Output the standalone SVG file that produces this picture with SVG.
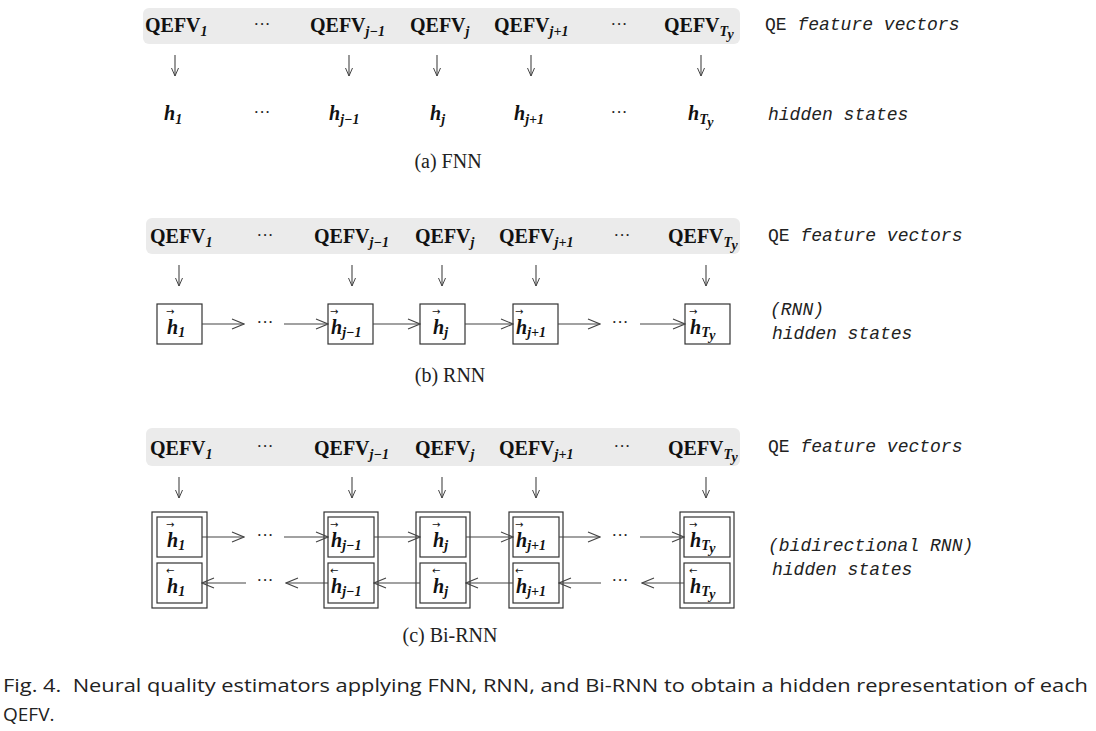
<svg xmlns="http://www.w3.org/2000/svg" width="1096" height="731" viewBox="0 0 1096 731">
<style>
.band{fill:#ebebeb}
.q{font-family:"Liberation Serif",serif;font-weight:bold;font-size:20px;fill:#111}
.s{font-size:14px;font-style:italic;font-weight:bold}
.dots{font-family:"Liberation Serif",serif;font-size:17px;fill:#222;text-anchor:middle}
.h{font-family:"Liberation Serif",serif;font-weight:bold;font-style:italic;font-size:20px;fill:#111}
.acc{font-family:"DejaVu Sans",sans-serif;font-size:10px;fill:#111}
.lab{font-family:"Liberation Mono",monospace;font-style:italic;font-size:18px;fill:#222}
.cap{font-family:"Liberation Serif",serif;font-size:20px;fill:#222;text-anchor:middle}
.fig{font-family:"Open Sans",sans-serif;font-size:19px;fill:#222}
.box{fill:#fff;stroke:#333;stroke-width:1.2}
.ln{stroke:#444;stroke-width:1.1;fill:none}
</style>
<defs>
<marker id="ah" markerWidth="14" markerHeight="12" refX="13" refY="6" orient="auto" markerUnits="userSpaceOnUse"><polyline points="1,1 13,6 1,11" fill="none" stroke="#444" stroke-width="1.1"/></marker>
<marker id="dh" markerWidth="10" markerHeight="8" refX="9" refY="4" orient="auto" markerUnits="userSpaceOnUse"><polyline points="1,0.5 9,4 1,7.5" fill="none" stroke="#444" stroke-width="1"/></marker>
</defs>

<g id="panel-a">
<rect class="band" x="143" y="8" width="597" height="36" rx="6"/>
<g id="a-qefv" class="q">
<text x="145" y="32">QEFV<tspan class="s" dy="4">1</tspan></text>
<text x="310" y="32">QEFV<tspan class="s" dy="4">j−1</tspan></text>
<text x="410" y="32">QEFV<tspan class="s" dy="4">j</tspan></text>
<text x="494" y="32">QEFV<tspan class="s" dy="4">j+1</tspan></text>
<text x="664" y="32">QEFV<tspan class="s" dy="4">T</tspan><tspan class="s" font-size="10" dy="3">y</tspan></text>
</g>
<text class="dots" x="262" y="30">···</text><text class="dots" x="619" y="30">···</text>
<text class="lab" x="765" y="30"><tspan font-style="normal">QE</tspan> feature vectors</text>
<g id="a-h" class="h">
<text x="164" y="120">h<tspan class="s" dy="4">1</tspan></text>
<text x="329" y="120">h<tspan class="s" dy="4">j−1</tspan></text>
<text x="430" y="120">h<tspan class="s" dy="4">j</tspan></text>
<text x="514" y="120">h<tspan class="s" dy="4">j+1</tspan></text>
<text x="688" y="120">h<tspan class="s" dy="4">T</tspan><tspan class="s" font-size="10" dy="3">y</tspan></text>
</g>
<text class="dots" x="262" y="118">···</text><text class="dots" x="619" y="118">···</text>
<text class="lab" x="768" y="120">hidden states</text>
<text class="cap" x="448" y="168">(a) FNN</text>
</g>

<g id="panel-b">
<rect class="band" x="146" y="218" width="594" height="36" rx="6"/>
<g class="q">
<text x="150" y="243">QEFV<tspan class="s" dy="4">1</tspan></text>
<text x="314" y="243">QEFV<tspan class="s" dy="4">j−1</tspan></text>
<text x="415" y="243">QEFV<tspan class="s" dy="4">j</tspan></text>
<text x="499" y="243">QEFV<tspan class="s" dy="4">j+1</tspan></text>
<text x="668" y="243">QEFV<tspan class="s" dy="4">T</tspan><tspan class="s" font-size="10" dy="3">y</tspan></text>
</g>
<text class="dots" x="265" y="241">···</text><text class="dots" x="622" y="241">···</text>
<text class="lab" x="768" y="241"><tspan font-style="normal">QE</tspan> feature vectors</text>
<g id="b-boxes">
<rect class="box" x="157" y="304" width="45" height="40"/>
<rect class="box" x="328" y="304" width="45" height="40"/>
<rect class="box" x="420" y="304" width="45" height="40"/>
<rect class="box" x="513" y="304" width="45" height="40"/>
<rect class="box" x="685" y="304" width="45" height="40"/>
</g>
<g class="h">
<text x="167" y="334">h<tspan class="s" dy="3">1</tspan></text>
<text x="331" y="334">h<tspan class="s" dy="3">j−1</tspan></text>
<text x="433" y="334">h<tspan class="s" dy="3">j</tspan></text>
<text x="516" y="334">h<tspan class="s" dy="3">j+1</tspan></text>
<text x="690" y="334">h<tspan class="s" dy="3">T</tspan><tspan class="s" font-size="10" dy="3">y</tspan></text>
</g>
<g class="acc">
<text x="166" y="315">→</text><text x="330" y="315">→</text><text x="432" y="315">→</text><text x="515" y="315">→</text><text x="689" y="315">→</text>
</g>
<text class="dots" x="265" y="328">···</text><text class="dots" x="620" y="328">···</text>
<text class="lab" x="770" y="315">(RNN)</text>
<text class="lab" x="772" y="339">hidden states</text>
<text class="cap" x="450" y="382">(b) RNN</text>
</g>

<g id="panel-c">
<rect class="band" x="146" y="428" width="594" height="38" rx="6"/>
<g class="q">
<text x="150" y="455">QEFV<tspan class="s" dy="4">1</tspan></text>
<text x="314" y="455">QEFV<tspan class="s" dy="4">j−1</tspan></text>
<text x="415" y="455">QEFV<tspan class="s" dy="4">j</tspan></text>
<text x="499" y="455">QEFV<tspan class="s" dy="4">j+1</tspan></text>
<text x="668" y="455">QEFV<tspan class="s" dy="4">T</tspan><tspan class="s" font-size="10" dy="3">y</tspan></text>
</g>
<text class="dots" x="265" y="452">···</text><text class="dots" x="622" y="452">···</text>
<text class="lab" x="768" y="452"><tspan font-style="normal">QE</tspan> feature vectors</text>
<g id="c-boxes">
<rect class="box" x="152" y="512" width="55" height="96"/>
<rect class="box" x="324" y="512" width="54" height="96"/>
<rect class="box" x="416" y="512" width="54" height="96"/>
<rect class="box" x="509" y="512" width="54" height="96"/>
<rect class="box" x="680" y="512" width="54" height="96"/>
<rect class="box" x="157" y="517" width="45" height="40"/><rect class="box" x="157" y="563" width="45" height="40"/>
<rect class="box" x="328" y="517" width="46" height="40"/><rect class="box" x="328" y="563" width="46" height="40"/>
<rect class="box" x="420" y="517" width="46" height="40"/><rect class="box" x="420" y="563" width="46" height="40"/>
<rect class="box" x="513" y="517" width="46" height="40"/><rect class="box" x="513" y="563" width="46" height="40"/>
<rect class="box" x="684" y="517" width="46" height="40"/><rect class="box" x="684" y="563" width="46" height="40"/>
</g>
<g class="h">
<text x="167" y="547">h<tspan class="s" dy="3">1</tspan></text>
<text x="331" y="547">h<tspan class="s" dy="3">j−1</tspan></text>
<text x="433" y="547">h<tspan class="s" dy="3">j</tspan></text>
<text x="516" y="547">h<tspan class="s" dy="3">j+1</tspan></text>
<text x="690" y="547">h<tspan class="s" dy="3">T</tspan><tspan class="s" font-size="10" dy="3">y</tspan></text>
<text x="167" y="593">h<tspan class="s" dy="3">1</tspan></text>
<text x="331" y="593">h<tspan class="s" dy="3">j−1</tspan></text>
<text x="433" y="593">h<tspan class="s" dy="3">j</tspan></text>
<text x="516" y="593">h<tspan class="s" dy="3">j+1</tspan></text>
<text x="690" y="593">h<tspan class="s" dy="3">T</tspan><tspan class="s" font-size="10" dy="3">y</tspan></text>
</g>
<g class="acc">
<text x="166" y="528">→</text><text x="330" y="528">→</text><text x="432" y="528">→</text><text x="515" y="528">→</text><text x="689" y="528">→</text>
<text x="166" y="574">←</text><text x="330" y="574">←</text><text x="432" y="574">←</text><text x="515" y="574">←</text><text x="689" y="574">←</text>
</g>
<text class="dots" x="265" y="541">···</text><text class="dots" x="620" y="541">···</text>
<text class="dots" x="265" y="586">···</text><text class="dots" x="620" y="586">···</text>
<text class="lab" x="768" y="551">(bidirectional RNN)</text>
<text class="lab" x="772" y="575">hidden states</text>
<text class="cap" x="450" y="642">(c) Bi-RNN</text>
</g>

<g id="connectors" class="ln">
<line x1="175" y1="55" x2="175" y2="76" marker-end="url(#dh)"/>
<line x1="349" y1="55" x2="349" y2="76" marker-end="url(#dh)"/>
<line x1="437" y1="55" x2="437" y2="76" marker-end="url(#dh)"/>
<line x1="531" y1="55" x2="531" y2="76" marker-end="url(#dh)"/>
<line x1="701" y1="55" x2="701" y2="76" marker-end="url(#dh)"/>
<line x1="179" y1="265" x2="179" y2="286" marker-end="url(#dh)"/>
<line x1="352" y1="265" x2="352" y2="286" marker-end="url(#dh)"/>
<line x1="442" y1="265" x2="442" y2="286" marker-end="url(#dh)"/>
<line x1="536" y1="265" x2="536" y2="286" marker-end="url(#dh)"/>
<line x1="706" y1="265" x2="706" y2="286" marker-end="url(#dh)"/>
<line x1="179" y1="477" x2="179" y2="498" marker-end="url(#dh)"/>
<line x1="352" y1="477" x2="352" y2="498" marker-end="url(#dh)"/>
<line x1="442" y1="477" x2="442" y2="498" marker-end="url(#dh)"/>
<line x1="536" y1="477" x2="536" y2="498" marker-end="url(#dh)"/>
<line x1="706" y1="477" x2="706" y2="498" marker-end="url(#dh)"/>
<line x1="202" y1="324" x2="244" y2="324" marker-end="url(#ah)"/>
<line x1="284" y1="324" x2="328" y2="324" marker-end="url(#ah)"/>
<line x1="373" y1="324" x2="420" y2="324" marker-end="url(#ah)"/>
<line x1="465" y1="324" x2="513" y2="324" marker-end="url(#ah)"/>
<line x1="558" y1="324" x2="600" y2="324" marker-end="url(#ah)"/>
<line x1="640" y1="324" x2="685" y2="324" marker-end="url(#ah)"/>
<line x1="202" y1="537" x2="244" y2="537" marker-end="url(#ah)"/>
<line x1="284" y1="537" x2="328" y2="537" marker-end="url(#ah)"/>
<line x1="374" y1="537" x2="420" y2="537" marker-end="url(#ah)"/>
<line x1="466" y1="537" x2="513" y2="537" marker-end="url(#ah)"/>
<line x1="559" y1="537" x2="600" y2="537" marker-end="url(#ah)"/>
<line x1="640" y1="537" x2="684" y2="537" marker-end="url(#ah)"/>
<line x1="246" y1="583" x2="202" y2="583" marker-end="url(#ah)"/>
<line x1="328" y1="583" x2="286" y2="583" marker-end="url(#ah)"/>
<line x1="420" y1="583" x2="374" y2="583" marker-end="url(#ah)"/>
<line x1="513" y1="583" x2="466" y2="583" marker-end="url(#ah)"/>
<line x1="601" y1="583" x2="559" y2="583" marker-end="url(#ah)"/>
<line x1="684" y1="583" x2="642" y2="583" marker-end="url(#ah)"/>
</g>

<g id="caption" class="fig">
<text x="3" y="692" textLength="1085" lengthAdjust="spacingAndGlyphs">Fig. 4.&#160; Neural quality estimators applying FNN, RNN, and Bi-RNN to obtain a hidden representation of each</text>
<text x="3" y="721">QEFV.</text>
</g>
</svg>
